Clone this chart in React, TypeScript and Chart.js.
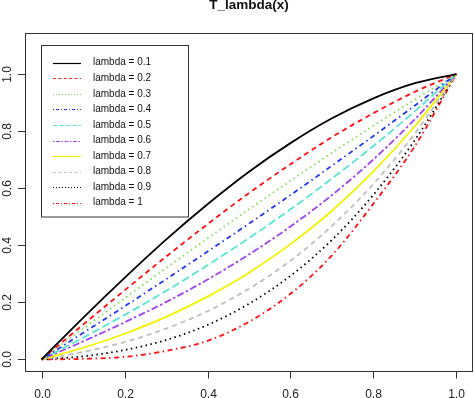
import React, { useEffect, useRef } from 'react';
import { Chart, registerables } from 'chart.js';

Chart.register(...registerables);

// ---- data ----
const X_VALUES = [0, 0.1, 0.2, 0.3, 0.4, 0.5, 0.6, 0.7, 0.8, 0.9, 1];
const LAMBDA_LABELS = [
  'lambda = 0.1', 'lambda = 0.2', 'lambda = 0.3', 'lambda = 0.4', 'lambda = 0.5',
  'lambda = 0.6', 'lambda = 0.7', 'lambda = 0.8', 'lambda = 0.9', 'lambda = 1',
];
const T_01 = [0, 0.146, 0.286, 0.420, 0.544, 0.658, 0.758, 0.845, 0.915, 0.968, 1];
const T_02 = [0, 0.122, 0.242, 0.360, 0.474, 0.583, 0.684, 0.779, 0.863, 0.938, 1];
const T_03 = [0, 0.108, 0.214, 0.320, 0.424, 0.526, 0.626, 0.724, 0.819, 0.911, 1];
const T_04 = [0, 0.093, 0.186, 0.281, 0.378, 0.476, 0.576, 0.679, 0.783, 0.890, 1];
const T_05 = [0, 0.076, 0.156, 0.240, 0.330, 0.425, 0.526, 0.634, 0.748, 0.870, 1];
const T_06 = [0, 0.063, 0.130, 0.201, 0.280, 0.368, 0.466, 0.576, 0.701, 0.842, 1];
const T_07 = [0, 0.041, 0.090, 0.149, 0.220, 0.304, 0.404, 0.521, 0.659, 0.818, 1];
const T_08 = [0, 0.026, 0.061, 0.108, 0.169, 0.248, 0.346, 0.468, 0.615, 0.792, 1];
const T_09 = [0, 0.011, 0.033, 0.068, 0.121, 0.195, 0.293, 0.419, 0.577, 0.769, 1];
const T_10 = [0, 0.002, 0.009, 0.030, 0.065, 0.132, 0.230, 0.365, 0.546, 0.748, 1];
const SERIES = [T_01, T_02, T_03, T_04, T_05, T_06, T_07, T_08, T_09, T_10];

const X_TICKS = [0, 0.2, 0.4, 0.6, 0.8, 1];
const Y_TICKS = [0, 0.2, 0.4, 0.6, 0.8, 1];
const X_TICK_LABELS = ['0.0', '0.2', '0.4', '0.6', '0.8', '1.0'];
const Y_TICK_LABELS = ['0.0', '0.2', '0.4', '0.6', '0.8', '1.0'];
const TITLE = 'T_lambda(x)';

// ---- styles ----
const COLORS = ['#000000', '#FF1010', '#7ADC58', '#2236EE', '#5AE4D2', '#A044EE', '#F2F200', '#BEBEBE', '#000000', '#FF1010'];
const DASHES: number[][] = [
  [], [5, 4], [1.5, 3.5], [1.5, 3.5, 5, 3.5], [8, 3.5], [2.5, 2.5, 7, 2.5],
  [], [5, 4], [1.5, 3.5], [1.5, 3.5, 5, 3.5],
];
const LEGEND_DASHES: number[][] = [
  [], [2.7, 2.7], [1, 2], [1, 2, 3, 2], [4.5, 2], [1.5, 1.5, 4, 1.5],
  [], [2.7, 2.7], [1, 2], [1, 2, 3, 2],
];
const FONT = '"Liberation Sans", Arial, Helvetica, sans-serif';

const rPlotPlugin = {
  id: 'rPlot',
  afterDatasetsDraw(chart: any) {
    const { ctx } = chart;
    // legend
    const L = 41, T = 45.5, R = 188, B = 217;
    ctx.save();
    ctx.fillStyle = '#ffffff';
    ctx.fillRect(L, T, R - L, B - T);
    ctx.strokeStyle = '#333';
    ctx.lineWidth = 1;
    ctx.strokeRect(L + 0.5, T, R - L, B - T);
    ctx.font = `10px ${FONT}`;
    ctx.textBaseline = 'middle';
    ctx.textAlign = 'left';
    LAMBDA_LABELS.forEach((lab, i) => {
      const y = 62.7 + 15.56 * i;
      ctx.beginPath();
      ctx.setLineDash(LEGEND_DASHES[i]);
      ctx.strokeStyle = COLORS[i];
      ctx.lineWidth = 1.2;
      ctx.moveTo(53, Math.round(y) + 0.5);
      ctx.lineTo(81, Math.round(y) + 0.5);
      ctx.stroke();
      ctx.setLineDash([]);
      ctx.fillStyle = '#111';
      ctx.fillText(lab, 93, y);
    });
    ctx.restore();
  },
  afterDraw(chart: any) {
    const { ctx, chartArea: a, scales } = chart;
    const xs = scales.x, ys = scales.y;
    ctx.save();
    ctx.strokeStyle = '#333';
    ctx.lineWidth = 1;
    ctx.setLineDash([]);
    ctx.strokeRect(Math.round(a.left) + 0.5, Math.round(a.top) + 0.5,
      Math.round(a.right - a.left) - 1, Math.round(a.bottom - a.top) - 1);
    ctx.fillStyle = '#222';
    ctx.font = `12px ${FONT}`;
    // x ticks
    ctx.textAlign = 'center';
    ctx.textBaseline = 'alphabetic';
    X_TICKS.forEach((v, i) => {
      const px = Math.round(xs.getPixelForValue(v)) + 0.5;
      ctx.beginPath();
      ctx.moveTo(px, a.bottom - 0.5);
      ctx.lineTo(px, a.bottom + 6.5);
      ctx.stroke();
      ctx.fillText(X_TICK_LABELS[i], px, 397.5);
    });
    // y ticks
    Y_TICKS.forEach((v, i) => {
      const py = Math.round(ys.getPixelForValue(v)) + 0.5;
      ctx.beginPath();
      ctx.moveTo(a.left - 7, py);
      ctx.lineTo(a.left + 0.5, py);
      ctx.stroke();
      ctx.save();
      ctx.translate(11, py);
      ctx.rotate(-Math.PI / 2);
      ctx.textAlign = 'center';
      ctx.textBaseline = 'alphabetic';
      ctx.fillText(Y_TICK_LABELS[i], 0, 0);
      ctx.restore();
    });
    ctx.restore();
  },
};

export default function App() {
  const ref = useRef<HTMLCanvasElement>(null);
  useEffect(() => {
    document.body.style.margin = '0';
    const datasets = SERIES.map((s, i) => ({
      label: LAMBDA_LABELS[i],
      data: X_VALUES.map((x, j) => ({ x, y: s[j] })),
      borderColor: COLORS[i],
      backgroundColor: COLORS[i],
      borderWidth: 1.8,
      borderDash: DASHES[i],
      pointRadius: 0,
      fill: false,
      cubicInterpolationMode: 'monotone' as const,
    }));
    const chart = new Chart(ref.current as HTMLCanvasElement, {
      type: 'line',
      data: { datasets },
      options: {
        animation: false,
        responsive: false,
        devicePixelRatio: 1,
        events: [],
        layout: { padding: { left: 25, right: 1, top: 0, bottom: 26 } },
        plugins: {
          legend: { display: false },
          tooltip: { enabled: false },
          title: {
            display: true,
            text: TITLE,
            color: '#111',
            font: { family: FONT, size: 13.5, weight: 'bold', lineHeight: 0.85 },
            padding: { top: 0, bottom: 21.5 },
          },
        },
        scales: {
          x: { type: 'linear', min: -0.04, max: 1.04, display: false },
          y: { type: 'linear', min: -0.044, max: 1.144, display: false },
        },
      },
      plugins: [rPlotPlugin],
    } as any);
    return () => chart.destroy();
  }, []);
  return (
    <div style={{ position: 'absolute', left: 0, top: 0, width: 474, height: 398, background: '#fff' }}>
      <canvas ref={ref} width={474} height={398} style={{ display: 'block', width: 474, height: 398 }} />
    </div>
  );
}
